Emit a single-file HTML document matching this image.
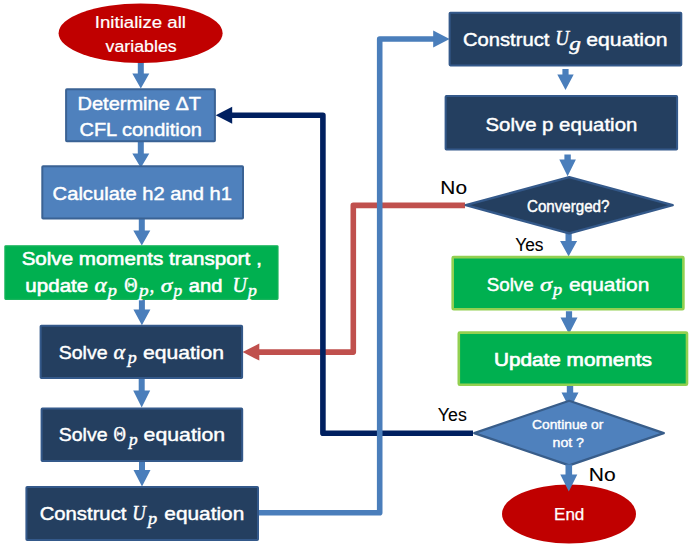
<!DOCTYPE html>
<html><head><meta charset="utf-8">
<style>
html,body{margin:0;padding:0;background:#fff;}
body{width:693px;height:548px;overflow:hidden;}
svg{display:block;}
text{font-family:"Liberation Sans",sans-serif;}
.w{fill:#fff;}
.k{fill:#000;}
.m{font-family:"Liberation Serif",serif;font-style:italic;}
</style></head><body>
<svg width="693" height="548" viewBox="0 0 693 548">
<rect width="693" height="548" fill="#fff"/>

<g fill="none" stroke-linejoin="round" stroke-width="5.6">
<path d="M465 205.4 H353.3 V352.1 H257" stroke="#C0504D"/>
<path d="M473 433.2 H322.9 V115.2 H230" stroke="#002060"/>
<path d="M258 512.8 H379.7 V39 H435" stroke="#4A7EBB"/>
</g>
<polygon points="242.6,352.1 259.3,343.6 259.3,360.6" fill="#C0504D"/>
<polygon points="215.7,115.2 232.2,106.7 232.2,123.7" fill="#002060"/>
<polygon points="449.6,39 433.2,30.5 433.2,47.6" fill="#4A7EBB"/>
<g fill="#4A7EBB">
<path d="M137.80 60.00 H143.80 V73.60 H149.30 L140.80 88.60 L132.30 73.60 H137.80 Z"/>
<path d="M137.80 141.00 H143.80 V153.60 H149.30 L140.80 167.80 L132.30 153.60 H137.80 Z"/>
<path d="M138.80 218.00 H144.80 V230.40 H150.30 L141.80 245.60 L133.30 230.40 H138.80 Z"/>
<path d="M138.90 299.00 H144.90 V309.40 H150.40 L141.90 325.20 L133.40 309.40 H138.90 Z"/>
<path d="M138.70 377.00 H144.70 V390.60 H150.20 L141.70 407.60 L133.20 390.60 H138.70 Z"/>
<path d="M139.00 460.00 H145.00 V470.00 H150.50 L142.00 486.60 L133.50 470.00 H139.00 Z"/>
<path d="M562.40 68.90 H568.60 V74.40 H573.70 L565.50 90.00 L557.30 74.40 H562.40 Z"/>
<path d="M564.40 154.60 H570.80 V159.40 H575.90 L567.60 176.20 L559.30 159.40 H564.40 Z"/>
<path d="M565.50 232.00 H571.70 V240.90 H577.10 L568.60 256.40 L560.10 240.90 H565.50 Z"/>
<path d="M565.90 311.30 H572.10 V317.50 H577.50 L569.00 334.00 L560.50 317.50 H565.90 Z"/>
<path d="M566.80 386.00 H573.20 V392.50 H578.50 L570.00 409.00 L561.50 392.50 H566.80 Z"/>
</g>
<ellipse cx="140.6" cy="33.2" rx="82" ry="29.7" fill="#C00000"/>
<rect x="66.10" y="89.30" width="148.80" height="52.00" rx="0.8" fill="#4F81BD" stroke="#3A6294" stroke-width="2.0"/>
<rect x="42.30" y="166.20" width="200.70" height="52.30" rx="0.8" fill="#4F81BD" stroke="#3A6294" stroke-width="2.0"/>
<rect x="4.90" y="245.80" width="273.10" height="53.60" rx="0.8" fill="#00B050" stroke="#19B45C" stroke-width="1.2"/>
<rect x="40.60" y="325.70" width="201.50" height="52.30" rx="0.8" fill="#243F60" stroke="#34598A" stroke-width="2.0"/>
<rect x="41.60" y="408.60" width="200.60" height="52.40" rx="0.8" fill="#243F60" stroke="#34598A" stroke-width="2.0"/>
<rect x="26.40" y="487.00" width="231.60" height="53.10" rx="0.8" fill="#243F60" stroke="#34598A" stroke-width="2.0"/>
<rect x="449.60" y="12.70" width="231.70" height="52.70" rx="0.8" fill="#243F60" stroke="#34598A" stroke-width="2.0"/>
<rect x="445.60" y="96.10" width="231.50" height="53.40" rx="0.8" fill="#243F60" stroke="#34598A" stroke-width="2.0"/>
<polygon points="465.8,205.2 569.2,177.1 672.7,205.2 569.2,233.3" fill="#243F60" stroke="#34598A" stroke-width="2.4" stroke-linejoin="round"/>
<rect x="452.70" y="257.10" width="230.70" height="52.20" rx="1" fill="#00B050" stroke="#92D050" stroke-width="2.6"/>
<rect x="458.80" y="332.60" width="228.20" height="52.10" rx="1" fill="#00B050" stroke="#92D050" stroke-width="2.6"/>
<polygon points="474.2,433.1 569.2,400.8 663.8,433.1 569.2,465.4" fill="#4F81BD" stroke="#385D8A" stroke-width="2.2" stroke-linejoin="round"/>
<ellipse cx="569" cy="513.9" rx="67" ry="29.5" fill="#C00000"/>
<g fill="#4A7EBB"><path d="M565.50 464.50 H572.10 V474.50 H577.30 L568.80 491.40 L560.30 474.50 H565.50 Z"/></g>
<text x="94.78" y="28.30" font-size="17.4" textLength="91.16" lengthAdjust="spacingAndGlyphs" class="w" stroke="#fff" stroke-width="0.2">Initialize all</text>
<text x="105.61" y="52.00" font-size="17.4" textLength="71.10" lengthAdjust="spacingAndGlyphs" class="w" stroke="#fff" stroke-width="0.2">variables</text>
<text x="77.47" y="109.50" font-size="19.0" textLength="123.54" lengthAdjust="spacingAndGlyphs" class="w" stroke="#fff" stroke-width="0.45">Determine ΔT</text>
<text x="79.53" y="136.10" font-size="19.0" textLength="122.36" lengthAdjust="spacingAndGlyphs" class="w" stroke="#fff" stroke-width="0.45">CFL condition</text>
<text x="52.62" y="199.70" font-size="19.0" textLength="179.33" lengthAdjust="spacingAndGlyphs" class="w" stroke="#fff" stroke-width="0.45">Calculate h2 and h1</text>
<text x="21.67" y="265.00" font-size="19" textLength="228.50" lengthAdjust="spacingAndGlyphs" class="w" stroke="#fff" stroke-width="0.6">Solve moments transport</text>
<text x="255.83" y="265.00" font-size="19" textLength="6.55" lengthAdjust="spacingAndGlyphs" class="w" stroke="#fff" stroke-width="0.3">,</text>
<text x="25.36" y="291.60" font-size="19" textLength="62.83" lengthAdjust="spacingAndGlyphs" class="w" stroke="#fff" stroke-width="0.6">update</text>
<text x="94.63" y="291.50" font-size="20" textLength="12.14" lengthAdjust="spacingAndGlyphs" class="w m" stroke="#fff" stroke-width="0.45">α</text>
<text x="107.88" y="295.60" font-size="17" textLength="9.15" lengthAdjust="spacingAndGlyphs" class="w m" stroke="#fff" stroke-width="0.45">p</text>
<text x="124.19" y="291.50" font-size="22" textLength="13.26" lengthAdjust="spacingAndGlyphs" class="w m" stroke="#fff" stroke-width="0.45" style="font-style:normal">Θ</text>
<text x="139.03" y="295.60" font-size="17" textLength="9.62" lengthAdjust="spacingAndGlyphs" class="w m" stroke="#fff" stroke-width="0.45">p</text>
<text x="149.61" y="291.50" font-size="20" textLength="4.76" lengthAdjust="spacingAndGlyphs" class="w m" stroke="#fff" stroke-width="0.45">,</text>
<text x="160.72" y="291.50" font-size="18.5" textLength="11.51" lengthAdjust="spacingAndGlyphs" class="w m" stroke="#fff" stroke-width="0.45">σ</text>
<text x="173.52" y="295.60" font-size="17" textLength="8.67" lengthAdjust="spacingAndGlyphs" class="w m" stroke="#fff" stroke-width="0.45">p</text>
<text x="188.85" y="291.60" font-size="19" textLength="33.53" lengthAdjust="spacingAndGlyphs" class="w" stroke="#fff" stroke-width="0.6">and</text>
<text x="232.39" y="291.50" font-size="21" textLength="14.34" lengthAdjust="spacingAndGlyphs" class="w m" stroke="#fff" stroke-width="0.45">U</text>
<text x="248.14" y="295.60" font-size="17" textLength="8.86" lengthAdjust="spacingAndGlyphs" class="w m" stroke="#fff" stroke-width="0.45">p</text>
<text x="58.75" y="359.40" font-size="19.0" textLength="48.79" lengthAdjust="spacingAndGlyphs" class="w" stroke="#fff" stroke-width="0.45">Solve</text>
<text x="113.47" y="359.30" font-size="20" textLength="11.52" lengthAdjust="spacingAndGlyphs" class="w m" stroke="#fff" stroke-width="0.45">α</text>
<text x="127.76" y="363.30" font-size="17" textLength="8.96" lengthAdjust="spacingAndGlyphs" class="w m" stroke="#fff" stroke-width="0.45">p</text>
<text x="142.93" y="359.40" font-size="19.0" textLength="81.17" lengthAdjust="spacingAndGlyphs" class="w" stroke="#fff" stroke-width="0.45">equation</text>
<text x="58.75" y="441.10" font-size="19.0" textLength="48.79" lengthAdjust="spacingAndGlyphs" class="w" stroke="#fff" stroke-width="0.45">Solve</text>
<text x="113.44" y="441.00" font-size="22" textLength="12.36" lengthAdjust="spacingAndGlyphs" class="w m" stroke="#fff" stroke-width="0.45" style="font-style:normal">Θ</text>
<text x="128.92" y="445.00" font-size="17" textLength="8.67" lengthAdjust="spacingAndGlyphs" class="w m" stroke="#fff" stroke-width="0.45">p</text>
<text x="143.62" y="441.10" font-size="19.0" textLength="81.58" lengthAdjust="spacingAndGlyphs" class="w" stroke="#fff" stroke-width="0.45">equation</text>
<text x="39.71" y="519.80" font-size="19.0" textLength="86.70" lengthAdjust="spacingAndGlyphs" class="w" stroke="#fff" stroke-width="0.45">Construct</text>
<text x="132.20" y="519.70" font-size="21" textLength="13.49" lengthAdjust="spacingAndGlyphs" class="w m" stroke="#fff" stroke-width="0.45">U</text>
<text x="147.98" y="523.70" font-size="17" textLength="9.15" lengthAdjust="spacingAndGlyphs" class="w m" stroke="#fff" stroke-width="0.45">p</text>
<text x="164.34" y="519.80" font-size="19.0" textLength="79.93" lengthAdjust="spacingAndGlyphs" class="w" stroke="#fff" stroke-width="0.45">equation</text>
<text x="462.91" y="45.50" font-size="19.0" textLength="86.50" lengthAdjust="spacingAndGlyphs" class="w" stroke="#fff" stroke-width="0.45">Construct</text>
<text x="555.36" y="45.40" font-size="21" textLength="13.81" lengthAdjust="spacingAndGlyphs" class="w m" stroke="#fff" stroke-width="0.45">U</text>
<text x="569.23" y="49.80" font-size="18.5" textLength="11.65" lengthAdjust="spacingAndGlyphs" class="w m" stroke="#fff" stroke-width="0.45">g</text>
<text x="586.32" y="45.50" font-size="19.0" textLength="81.27" lengthAdjust="spacingAndGlyphs" class="w" stroke="#fff" stroke-width="0.45">equation</text>
<text x="485.51" y="130.70" font-size="19.0" textLength="151.80" lengthAdjust="spacingAndGlyphs" class="w" stroke="#fff" stroke-width="0.45">Solve p equation</text>
<text x="526.97" y="211.50" font-size="16" textLength="82.45" lengthAdjust="spacingAndGlyphs" class="w" stroke="#fff" stroke-width="0.45">Converged?</text>
<text x="486.68" y="290.70" font-size="19.0" textLength="47.02" lengthAdjust="spacingAndGlyphs" class="w" stroke="#fff" stroke-width="0.45">Solve</text>
<text x="540.09" y="290.50" font-size="18.5" textLength="12.01" lengthAdjust="spacingAndGlyphs" class="w m" stroke="#fff" stroke-width="0.45">σ</text>
<text x="552.98" y="294.60" font-size="17" textLength="9.15" lengthAdjust="spacingAndGlyphs" class="w m" stroke="#fff" stroke-width="0.45">p</text>
<text x="568.94" y="290.50" font-size="19.0" textLength="80.34" lengthAdjust="spacingAndGlyphs" class="w" stroke="#fff" stroke-width="0.45">equation</text>
<text x="493.94" y="365.70" font-size="19" textLength="158.03" lengthAdjust="spacingAndGlyphs" class="w" stroke="#fff" stroke-width="0.7">Update moments</text>
<text x="532.01" y="429.10" font-size="13.4" textLength="71.40" lengthAdjust="spacingAndGlyphs" class="w" stroke="#fff" stroke-width="0.4">Continue or</text>
<text x="552.54" y="446.90" font-size="13.4" textLength="31.47" lengthAdjust="spacingAndGlyphs" class="w" stroke="#fff" stroke-width="0.4">not ?</text>
<text x="554.02" y="519.90" font-size="16.6" textLength="30.35" lengthAdjust="spacingAndGlyphs" class="w" stroke="#fff" stroke-width="0.25">End</text>
<text x="440.33" y="193.80" font-size="19.2" textLength="26.67" lengthAdjust="spacingAndGlyphs" class="k" stroke="#000" stroke-width="0.1">No</text>
<text x="515.26" y="250.80" font-size="19.2" textLength="28.28" lengthAdjust="spacingAndGlyphs" class="k" stroke="#000" stroke-width="0.1">Yes</text>
<text x="437.85" y="420.80" font-size="19.2" textLength="28.90" lengthAdjust="spacingAndGlyphs" class="k" stroke="#000" stroke-width="0.1">Yes</text>
<text x="588.71" y="481.00" font-size="19.2" textLength="26.90" lengthAdjust="spacingAndGlyphs" class="k" stroke="#000" stroke-width="0.1">No</text>
</svg>
</body></html>
